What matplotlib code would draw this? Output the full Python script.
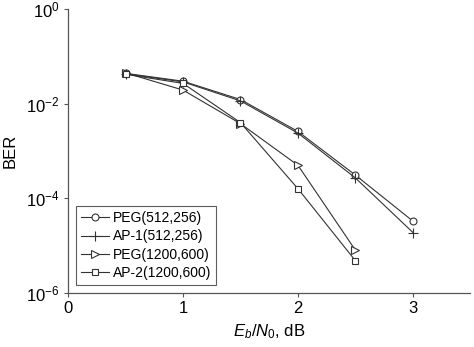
import matplotlib
matplotlib.use("Agg")
import matplotlib.pyplot as plt

plt.rcParams['font.family'] = ['Liberation Sans', 'DejaVu Sans']
plt.rcParams['mathtext.fontset'] = 'custom'
plt.rcParams['mathtext.rm'] = 'Liberation Sans'
plt.rcParams['mathtext.it'] = 'Liberation Sans:italic'

ebn0_512 = [0.5, 1.0, 1.5, 2.0, 2.5, 3.0]
peg_512 = [0.044, 0.030, 0.0123, 0.0026, 3.1e-4, 3.3e-5]
ap1_512 = [0.043, 0.029, 0.0115, 0.0024, 2.7e-4, 1.9e-5]
ebn0_1200 = [0.5, 1.0, 1.5, 2.0, 2.5]
peg_1200 = [0.045, 0.0195, 0.0038, 5.0e-4, 8e-6]
ap2_1200 = [0.042, 0.027, 0.0040, 1.6e-4, 4.8e-6]
labels = ['PEG(512,256)', 'AP-1(512,256)', 'PEG(1200,600)', 'AP-2(1200,600)']

fig = plt.figure(figsize=(4.74, 3.47), dpi=100)
ax = fig.add_axes([0.1435, 0.1556, 0.849, 0.818])

lc = '#333333'
kw = dict(color=lc, lw=0.8, mfc='white', mec=lc, mew=0.8)
ax.plot(ebn0_512, peg_512, marker='o', ms=5, label=labels[0], **kw)
ax.plot(ebn0_512, ap1_512, marker='+', ms=7, label=labels[1], **kw)
ax.plot(ebn0_1200, peg_1200, marker='>', ms=5.5, label=labels[2], **kw)
ax.plot(ebn0_1200, ap2_1200, marker='s', ms=4.8, label=labels[3], **kw)

ax.set_yscale('log')
ax.set_ylim(1e-6, 1)
ax.set_xlim(0, 3.5)
ax.set_yticks([1e-6, 1e-4, 1e-2, 1])
ax.yaxis.set_minor_locator(matplotlib.ticker.NullLocator())
ax.set_xticks([0, 1, 2, 3])
ax.set_xticklabels(['0', '1', '2', '3'])
ax.set_yticklabels([r'$\mathregular{10^{-6}}$', r'$\mathregular{10^{-4}}$',
                    r'$\mathregular{10^{-2}}$', r'$\mathregular{10^{0}}$'])
ax.tick_params(direction='out', length=3, width=0.8, color='#555555',
               labelsize=12, pad=3)
for s in ['top', 'right']:
    ax.spines[s].set_visible(False)
for s in ['left', 'bottom']:
    ax.spines[s].set_color('#555555')
    ax.spines[s].set_linewidth(0.9)

ax.set_ylabel('BER', fontsize=12, labelpad=6)
ax.set_xlabel(r'$E_b/N_0$, dB', fontsize=12, labelpad=4)

leg = ax.legend(loc='lower left', fontsize=10, frameon=True, fancybox=False,
                edgecolor='#333333', handlelength=2.0, handletextpad=0.3,
                borderpad=0.35, labelspacing=0.3, borderaxespad=0.6)
leg.get_frame().set_linewidth(0.8)

fig.savefig('out.png', dpi=100)
